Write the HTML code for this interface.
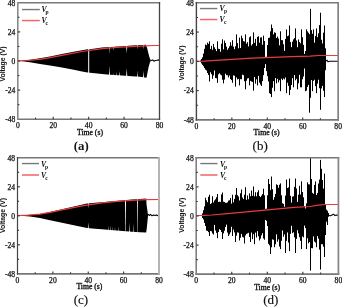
<!DOCTYPE html>
<html><head><meta charset="utf-8"><style>
html,body{margin:0;padding:0;background:#fff;overflow:hidden;}
svg{display:block;}
text{font-family:'Liberation Serif', 'Times New Roman', serif;fill:#111;}
.tk{font-size:7.6px;stroke:#111;stroke-width:0.25px;}
.xl{font-size:7.7px;stroke:#111;stroke-width:0.35px;}
.yl{font-size:6.8px;font-weight:bold;font-family:'Liberation Sans',Arial,sans-serif;}
.pl{font-size:12.8px;font-weight:bold;}
.pr{font-size:13px;stroke:#111;stroke-width:0.15px;}
.lg{font-size:7.6px;font-style:italic;font-weight:bold;}
.sub{font-size:5.5px;font-weight:bold;}
</style></head><body>
<svg width="342" height="307" viewBox="0 0 342 307">
<rect width="342" height="307" fill="#fff"/>
<polygon points="21.00,60.50 30.00,59.80 40.00,58.30 50.00,56.40 62.00,54.00 75.00,51.60 82.00,50.20 87.60,49.20 88.20,49.20 88.20,60.70 89.20,60.70 89.20,49.40 90.00,49.20 102.00,47.40 110.00,46.90 122.00,46.20 132.00,45.40 145.80,44.80 147.20,48.20 148.50,53.70 149.60,57.80 150.60,60.30 150.60,61.20 149.90,62.60 148.50,67.40 147.20,74.20 146.50,77.70 145.00,77.50 140.00,76.80 132.00,76.30 122.00,75.40 110.00,74.70 102.00,74.10 90.00,72.80 89.20,72.80 89.20,60.70 88.20,60.70 88.20,72.60 87.60,72.60 82.00,71.60 75.00,70.00 62.00,67.50 50.00,65.60 40.00,64.10 30.00,62.20 21.00,61.00" fill="#000"/>
<polygon points="109.10,45.90 109.90,45.90 109.50,53.90" fill="#fff"/>
<polygon points="109.00,75.70 110.00,75.70 109.50,65.70" fill="#fff"/>
<polygon points="112.75,45.10 113.65,45.10 113.20,51.00" fill="#fff"/>
<polygon points="112.80,76.50 113.60,76.50 113.20,73.00" fill="#fff"/>
<polygon points="116.00,76.20 116.80,76.20 116.40,71.80" fill="#fff"/>
<polygon points="119.05,76.50 119.95,76.50 119.50,71.00" fill="#fff"/>
<polygon points="126.00,44.50 127.40,44.50 126.70,53.20" fill="#fff"/>
<polygon points="126.05,77.50 127.35,77.50 126.70,68.10" fill="#fff"/>
<polygon points="136.95,44.30 137.85,44.30 137.40,49.60" fill="#fff"/>
<polygon points="136.90,78.00 137.90,78.00 137.40,70.80" fill="#fff"/>
<polygon points="142.90,43.80 143.90,43.80 143.40,49.60" fill="#fff"/>
<polygon points="142.80,78.80 144.00,78.80 143.40,70.80" fill="#fff"/>
<polyline points="150.30,60.80 151.30,60.50 152.70,59.90 154.00,61.20 155.40,60.50 156.80,60.30 158.00,59.90 159.50,60.20" fill="none" stroke="#000" stroke-width="1.1" stroke-linejoin="round"/>
<polyline points="17.70,60.80 28.00,60.50 40.00,59.40 50.00,57.60 62.00,55.40 82.00,51.50 102.00,48.60 117.00,47.40 132.00,46.60 145.00,45.80 154.00,45.50 159.50,45.50" fill="none" stroke="#e83c3c" stroke-width="1.2"/>
<polygon points="21.00,215.30 30.00,215.00 40.00,213.90 50.00,212.00 62.00,209.20 75.00,206.20 87.00,203.50 95.00,202.80 102.00,202.20 110.00,201.50 132.00,199.60 140.00,199.00 146.20,198.60 146.60,205.00 147.60,212.00 148.00,215.00 148.00,216.00 147.60,220.00 146.80,228.00 146.20,232.60 140.00,232.30 132.00,231.80 110.00,230.00 102.00,229.30 95.00,228.70 87.00,228.00 75.00,225.50 62.00,222.80 50.00,220.20 40.00,218.00 30.00,216.40 21.00,215.80" fill="#000"/>
<polygon points="87.80,202.30 88.80,202.30 88.30,208.50" fill="#fff"/>
<polygon points="87.80,229.20 88.80,229.20 88.30,222.50" fill="#fff"/>
<polygon points="107.90,231.20 108.50,231.20 108.20,225.50" fill="#fff"/>
<polygon points="110.10,231.50 110.70,231.50 110.40,225.50" fill="#fff"/>
<polygon points="112.15,231.50 112.65,231.50 112.40,226.30" fill="#fff"/>
<polygon points="114.75,231.80 115.25,231.80 115.00,226.50" fill="#fff"/>
<polygon points="118.25,232.00 118.95,232.00 118.60,226.00" fill="#fff"/>
<polygon points="124.95,198.20 126.05,198.20 125.68,233.40 125.32,233.40" fill="#fff"/>
<polygon points="129.00,232.80 129.80,232.80 129.40,222.60" fill="#fff"/>
<polygon points="133.50,233.00 134.10,233.00 133.80,223.00" fill="#fff"/>
<polygon points="136.95,197.80 137.85,197.80 137.55,233.50 137.25,233.50" fill="#fff"/>
<polyline points="147.20,214.80 148.20,214.40 149.20,215.50 150.50,214.40 152.00,215.80 153.50,215.10 155.00,215.60 156.50,214.90 158.00,215.70 159.00,215.30" fill="none" stroke="#000" stroke-width="1.1" stroke-linejoin="round"/>
<polyline points="17.50,215.50 28.00,215.20 40.00,214.10 50.00,212.30 62.00,209.90 82.00,205.80 102.00,202.80 117.00,201.40 132.00,200.40 146.00,199.70 159.00,199.50" fill="none" stroke="#e83c3c" stroke-width="1.2"/>
<path d="M200.50 60.46V61.96M201.50 58.97V63.43M202.50 57.28V64.85M203.50 53.60V66.18M204.50 48.82V68.07M205.50 44.50V69.70M206.50 45.12V70.48M207.50 42.61V73.01M208.50 43.82V75.03M209.50 41.30V81.50M210.50 48.98V72.24M211.50 45.88V74.13M212.50 49.76V78.80M213.50 43.90V75.47M214.50 47.36V70.52M215.50 49.15V78.03M216.50 51.17V78.30M217.50 41.30V82.80M218.50 48.80V74.37M219.50 49.01V73.26M220.50 51.78V74.57M221.50 43.72V75.40M222.50 39.30V79.71M223.50 49.34V83.40M224.50 40.60V79.63M225.50 43.05V73.65M226.50 46.66V75.13M227.50 49.82V75.31M228.50 48.23V77.43M229.50 46.29V75.51M230.50 42.21V79.06M231.50 45.61V80.11M232.50 40.20V82.80M233.50 46.78V75.39M234.50 49.20V75.77M235.50 46.30V86.70M236.50 34.40V77.49M237.50 43.13V79.40M238.50 48.28V78.89M239.50 37.60V85.40M240.50 48.04V79.14M241.50 35.70V79.27M242.50 38.24V74.66M243.50 41.10V75.16M244.50 41.55V81.28M245.50 34.40V89.30M246.50 43.65V80.71M247.50 42.16V78.51M248.50 46.38V78.19M249.50 37.26V85.40M250.50 36.30V80.89M251.50 45.47V81.50M252.50 44.08V81.92M253.50 32.40V90.60M254.50 42.87V76.93M255.50 38.89V83.63M256.50 45.90V79.30M257.50 36.91V85.40M258.50 36.30V75.89M259.50 42.67V82.59M260.50 37.50V84.61M261.50 37.39V86.00M262.50 44.74V81.12M263.50 35.70V75.22M264.50 41.03V67.98M265.50 56.85V64.12M266.50 56.79V71.13M267.50 45.00V76.20M268.50 37.98V81.44M269.50 37.64V93.20M270.50 31.37V93.99M271.50 24.50V97.10M272.50 28.14V87.72M273.50 34.43V81.11M274.50 32.30V91.20M275.50 32.89V78.00M276.50 37.99V83.38M277.50 36.58V78.86M278.50 38.52V82.35M279.50 45.28V80.24M280.50 31.30V91.20M281.50 40.12V78.70M282.50 40.17V80.10M283.50 44.19V78.53M284.50 50.87V79.43M285.50 38.92V77.49M286.50 29.40V93.20M287.50 36.19V82.77M288.50 35.58V85.88M289.50 25.50V95.10M290.50 41.97V89.86M291.50 47.15V84.99M292.50 41.66V78.20M293.50 39.40V87.30M294.50 38.12V75.11M295.50 28.40V80.35M296.50 40.47V78.82M297.50 47.22V89.30M298.50 39.47V83.32M299.50 42.02V74.84M300.50 43.33V87.30M301.50 29.40V87.30M302.50 37.16V79.27M303.50 44.88V76.52M304.50 53.93V68.52M305.50 51.02V91.20M306.50 29.40V90.66M307.50 31.37V86.89M308.50 32.75V84.87M309.50 34.20V112.70M310.50 8.80V97.81M311.50 30.13V80.09M312.50 33.77V91.20M313.50 29.40V80.80M314.50 42.70V79.74M315.50 35.94V86.14M316.50 28.40V93.20M317.50 37.17V83.67M318.50 33.35V79.74M319.50 25.09V88.20M320.50 12.70V109.80M321.50 39.77V88.41M322.50 43.50V85.89M323.50 32.66V90.78M324.50 25.50V97.10M325.50 48.30V70.25" stroke="#000" stroke-width="1.0" fill="none"/>
<polyline points="326.00,61.00 327.00,60.20 328.00,61.80 329.50,61.20 332.00,61.30 335.00,61.20 338.20,61.30" fill="none" stroke="#000" stroke-width="1.1" stroke-linejoin="round"/>
<polyline points="196.40,61.40 204.00,61.20 212.00,60.60 252.00,58.20 292.00,56.60 310.00,56.10 319.00,55.50 338.20,55.50" fill="none" stroke="#e83c3c" stroke-width="1.2"/>
<path d="M202.50 213.37V218.00M203.50 210.26V219.49M204.50 206.41V222.90M205.50 197.70V225.99M206.50 200.31V230.62M207.50 202.09V230.90M208.50 196.77V232.18M209.50 194.70V236.00M210.50 203.97V230.97M211.50 203.21V231.36M212.50 196.20V233.38M213.50 202.45V234.50M214.50 200.46V224.90M215.50 199.26V230.52M216.50 197.26V232.91M217.50 194.00V238.20M218.50 201.98V231.94M219.50 201.67V229.29M220.50 201.97V230.03M221.50 194.44V232.01M222.50 192.50V239.00M223.50 201.71V233.37M224.50 202.03V230.71M225.50 202.83V227.01M226.50 202.85V224.64M227.50 202.34V232.57M228.50 200.61V236.00M229.50 200.27V234.40M230.50 198.04V232.36M231.50 203.63V226.81M232.50 194.70V236.00M233.50 202.37V229.60M234.50 198.87V232.44M235.50 194.81V242.00M236.50 188.00V235.68M237.50 195.14V232.44M238.50 196.52V232.68M239.50 200.47V240.50M240.50 193.26V237.76M241.50 189.50V233.96M242.50 197.51V236.87M243.50 199.08V237.56M244.50 194.75V243.50M245.50 187.20V235.44M246.50 199.80V233.83M247.50 195.43V233.44M248.50 199.27V232.83M249.50 193.40V236.97M250.50 196.28V242.00M251.50 190.53V232.56M252.50 195.79V239.18M253.50 186.50V234.22M254.50 196.30V244.20M255.50 192.21V232.60M256.50 196.28V237.53M257.50 192.27V231.16M258.50 190.20V236.27M259.50 196.08V240.50M260.50 197.05V238.64M261.50 195.66V235.44M262.50 194.13V233.17M263.50 188.70V238.46M264.50 195.30V239.70M265.50 208.87V219.92M266.50 208.67V220.82M267.50 195.24V226.03M268.50 179.00V243.86M269.50 184.03V245.35M270.50 190.10V254.00M271.50 176.50V247.27M272.50 189.23V239.39M273.50 199.77V239.81M274.50 197.15V247.20M275.50 193.90V244.26M276.50 184.30V234.40M277.50 185.02V241.66M278.50 187.80V239.36M279.50 184.69V246.55M280.50 183.40V249.10M281.50 195.24V240.77M282.50 203.26V230.51M283.50 203.93V236.76M284.50 206.69V234.42M285.50 195.60V253.00M286.50 179.50V240.85M287.50 188.06V232.47M288.50 187.40V242.56M289.50 178.50V251.10M290.50 195.82V233.88M291.50 202.62V225.80M292.50 196.63V233.14M293.50 196.32V232.32M294.50 186.86V237.37M295.50 178.50V253.00M296.50 188.47V238.92M297.50 201.92V230.23M298.50 194.66V233.39M299.50 185.83V237.21M300.50 194.47V240.82M301.50 181.40V249.10M302.50 192.03V236.49M303.50 197.28V237.40M304.50 206.06V225.58M305.50 208.41V228.12M306.50 203.30V249.10M307.50 182.40V238.26M308.50 184.28V243.32M309.50 184.43V241.97M310.50 158.00V270.60M311.50 178.97V248.05M312.50 192.83V248.27M313.50 193.82V236.42M314.50 184.93V241.52M315.50 181.40V242.61M316.50 194.93V247.20M317.50 192.99V236.10M318.50 183.53V238.73M319.50 179.59V249.64M320.50 159.90V269.60M321.50 168.79V244.18M322.50 180.06V244.31M323.50 188.60V246.76M324.50 173.60V257.00M325.50 204.07V235.03M326.50 209.61V221.68M327.50 210.83V225.00M328.50 213.00V216.81" stroke="#000" stroke-width="1.0" fill="none"/>
<polyline points="329.00,215.50 330.50,215.80 332.00,215.00 333.50,214.20 335.00,215.60 336.50,215.00 338.50,215.30" fill="none" stroke="#000" stroke-width="1.1" stroke-linejoin="round"/>
<polyline points="196.20,215.50 204.00,215.40 212.00,215.00 230.00,213.40 252.00,211.30 294.00,207.30 310.00,206.50 318.00,205.20 325.00,204.50 338.40,204.50" fill="none" stroke="#e83c3c" stroke-width="1.2"/>
<line x1="17.00" y1="2.80" x2="160.15" y2="2.80" stroke="#7a7a7a" stroke-width="1.6"/>
<line x1="17.00" y1="119.20" x2="160.15" y2="119.20" stroke="#777" stroke-width="1.6"/>
<line x1="17.80" y1="2.00" x2="17.80" y2="120.00" stroke="#8a8a8a" stroke-width="1.6"/>
<line x1="159.50" y1="2.00" x2="159.50" y2="120.00" stroke="#444" stroke-width="1.3"/>
<line x1="17.80" y1="104.65" x2="19.40" y2="104.65" stroke="#333" stroke-width="1.1"/>
<line x1="17.80" y1="90.10" x2="20.20" y2="90.10" stroke="#333" stroke-width="1.1"/>
<line x1="17.80" y1="75.55" x2="19.40" y2="75.55" stroke="#333" stroke-width="1.1"/>
<line x1="17.80" y1="61.00" x2="20.20" y2="61.00" stroke="#333" stroke-width="1.1"/>
<line x1="17.80" y1="46.45" x2="19.40" y2="46.45" stroke="#333" stroke-width="1.1"/>
<line x1="17.80" y1="31.90" x2="20.20" y2="31.90" stroke="#333" stroke-width="1.1"/>
<line x1="17.80" y1="17.35" x2="19.40" y2="17.35" stroke="#333" stroke-width="1.1"/>
<line x1="35.51" y1="119.20" x2="35.51" y2="117.60" stroke="#333" stroke-width="1.1"/>
<line x1="53.22" y1="119.20" x2="53.22" y2="116.80" stroke="#333" stroke-width="1.1"/>
<line x1="70.94" y1="119.20" x2="70.94" y2="117.60" stroke="#333" stroke-width="1.1"/>
<line x1="88.65" y1="119.20" x2="88.65" y2="116.80" stroke="#333" stroke-width="1.1"/>
<line x1="106.36" y1="119.20" x2="106.36" y2="117.60" stroke="#333" stroke-width="1.1"/>
<line x1="124.08" y1="119.20" x2="124.08" y2="116.80" stroke="#333" stroke-width="1.1"/>
<line x1="141.79" y1="119.20" x2="141.79" y2="117.60" stroke="#333" stroke-width="1.1"/>
<text x="15.30" y="5.70" text-anchor="end" class="tk">48</text>
<text x="15.30" y="34.80" text-anchor="end" class="tk">24</text>
<text x="15.30" y="63.90" text-anchor="end" class="tk">0</text>
<text x="15.30" y="93.00" text-anchor="end" class="tk">-24</text>
<text x="15.30" y="122.10" text-anchor="end" class="tk">-48</text>
<text x="17.80" y="128.20" text-anchor="middle" class="tk">0</text>
<text x="53.22" y="128.20" text-anchor="middle" class="tk">20</text>
<text x="88.65" y="128.20" text-anchor="middle" class="tk">40</text>
<text x="124.08" y="128.20" text-anchor="middle" class="tk">60</text>
<text x="159.50" y="128.20" text-anchor="middle" class="tk">80</text>
<text x="90.00" y="135.20" text-anchor="middle" class="xl">Time (s)</text>
<text x="81.30" y="149.60" text-anchor="middle" class="pl">(a)</text>
<text transform="translate(4.70,64.00) rotate(-90)" text-anchor="middle" class="yl">Voltage (V)</text>
<line x1="22.0" y1="9.55" x2="39.8" y2="9.55" stroke="#787878" stroke-width="1.4"/>
<line x1="22.0" y1="20.55" x2="39.8" y2="20.55" stroke="#f06868" stroke-width="1.5"/>
<text x="41.4" y="11.6" class="lg">V</text><text x="45.40" y="13.70" class="sub">p</text>
<text x="41.4" y="22.9" class="lg">V</text><text x="45.60" y="25.00" class="sub">c</text>
<line x1="195.70" y1="2.80" x2="339.01" y2="2.80" stroke="#7a7a7a" stroke-width="1.6"/>
<line x1="195.70" y1="119.85" x2="339.01" y2="119.85" stroke="#777" stroke-width="1.7"/>
<line x1="196.40" y1="2.00" x2="196.40" y2="120.70" stroke="#444" stroke-width="1.4"/>
<line x1="338.16" y1="2.00" x2="338.16" y2="120.70" stroke="#808080" stroke-width="1.7"/>
<line x1="196.40" y1="105.22" x2="198.00" y2="105.22" stroke="#333" stroke-width="1.1"/>
<line x1="196.40" y1="90.59" x2="198.80" y2="90.59" stroke="#333" stroke-width="1.1"/>
<line x1="196.40" y1="75.96" x2="198.00" y2="75.96" stroke="#333" stroke-width="1.1"/>
<line x1="196.40" y1="61.32" x2="198.80" y2="61.32" stroke="#333" stroke-width="1.1"/>
<line x1="196.40" y1="46.69" x2="198.00" y2="46.69" stroke="#333" stroke-width="1.1"/>
<line x1="196.40" y1="32.06" x2="198.80" y2="32.06" stroke="#333" stroke-width="1.1"/>
<line x1="196.40" y1="17.43" x2="198.00" y2="17.43" stroke="#333" stroke-width="1.1"/>
<line x1="214.12" y1="119.85" x2="214.12" y2="118.25" stroke="#333" stroke-width="1.1"/>
<line x1="231.84" y1="119.85" x2="231.84" y2="117.45" stroke="#333" stroke-width="1.1"/>
<line x1="249.56" y1="119.85" x2="249.56" y2="118.25" stroke="#333" stroke-width="1.1"/>
<line x1="267.28" y1="119.85" x2="267.28" y2="117.45" stroke="#333" stroke-width="1.1"/>
<line x1="285.00" y1="119.85" x2="285.00" y2="118.25" stroke="#333" stroke-width="1.1"/>
<line x1="302.72" y1="119.85" x2="302.72" y2="117.45" stroke="#333" stroke-width="1.1"/>
<line x1="320.44" y1="119.85" x2="320.44" y2="118.25" stroke="#333" stroke-width="1.1"/>
<text x="193.90" y="5.70" text-anchor="end" class="tk">48</text>
<text x="193.90" y="34.96" text-anchor="end" class="tk">24</text>
<text x="193.90" y="64.22" text-anchor="end" class="tk">0</text>
<text x="193.90" y="93.49" text-anchor="end" class="tk">-24</text>
<text x="193.90" y="122.75" text-anchor="end" class="tk">-48</text>
<text x="196.40" y="128.90" text-anchor="middle" class="tk">0</text>
<text x="231.84" y="128.90" text-anchor="middle" class="tk">20</text>
<text x="267.28" y="128.90" text-anchor="middle" class="tk">40</text>
<text x="302.72" y="128.90" text-anchor="middle" class="tk">60</text>
<text x="338.16" y="128.90" text-anchor="middle" class="tk">80</text>
<text x="266.60" y="135.20" text-anchor="middle" class="xl">Time (s)</text>
<text x="260.20" y="149.60" text-anchor="middle" class="pr">(b)</text>
<text transform="translate(183.60,63.10) rotate(-90)" text-anchor="middle" class="yl">Voltage (V)</text>
<line x1="199.9" y1="8.55" x2="217.3" y2="8.55" stroke="#787878" stroke-width="1.4"/>
<line x1="199.9" y1="19.55" x2="217.3" y2="19.55" stroke="#f06868" stroke-width="1.5"/>
<text x="219.4" y="11.0" class="lg">V</text><text x="223.90" y="13.10" class="sub">p</text>
<text x="219.4" y="21.9" class="lg">V</text><text x="224.10" y="24.00" class="sub">c</text>
<line x1="16.90" y1="157.80" x2="160.00" y2="157.80" stroke="#777" stroke-width="1.6"/>
<line x1="16.90" y1="273.80" x2="160.00" y2="273.80" stroke="#777" stroke-width="1.65"/>
<line x1="17.50" y1="157.00" x2="17.50" y2="274.62" stroke="#444" stroke-width="1.2"/>
<line x1="159.00" y1="157.00" x2="159.00" y2="274.62" stroke="#b4b4b4" stroke-width="2.0"/>
<line x1="17.50" y1="259.30" x2="19.10" y2="259.30" stroke="#333" stroke-width="1.1"/>
<line x1="17.50" y1="244.80" x2="19.90" y2="244.80" stroke="#333" stroke-width="1.1"/>
<line x1="17.50" y1="230.30" x2="19.10" y2="230.30" stroke="#333" stroke-width="1.1"/>
<line x1="17.50" y1="215.80" x2="19.90" y2="215.80" stroke="#333" stroke-width="1.1"/>
<line x1="17.50" y1="201.30" x2="19.10" y2="201.30" stroke="#333" stroke-width="1.1"/>
<line x1="17.50" y1="186.80" x2="19.90" y2="186.80" stroke="#333" stroke-width="1.1"/>
<line x1="17.50" y1="172.30" x2="19.10" y2="172.30" stroke="#333" stroke-width="1.1"/>
<line x1="35.19" y1="273.80" x2="35.19" y2="272.20" stroke="#333" stroke-width="1.1"/>
<line x1="52.88" y1="273.80" x2="52.88" y2="271.40" stroke="#333" stroke-width="1.1"/>
<line x1="70.56" y1="273.80" x2="70.56" y2="272.20" stroke="#333" stroke-width="1.1"/>
<line x1="88.25" y1="273.80" x2="88.25" y2="271.40" stroke="#333" stroke-width="1.1"/>
<line x1="105.94" y1="273.80" x2="105.94" y2="272.20" stroke="#333" stroke-width="1.1"/>
<line x1="123.62" y1="273.80" x2="123.62" y2="271.40" stroke="#333" stroke-width="1.1"/>
<line x1="141.31" y1="273.80" x2="141.31" y2="272.20" stroke="#333" stroke-width="1.1"/>
<text x="15.00" y="160.70" text-anchor="end" class="tk">48</text>
<text x="15.00" y="189.70" text-anchor="end" class="tk">24</text>
<text x="15.00" y="218.70" text-anchor="end" class="tk">0</text>
<text x="15.00" y="247.70" text-anchor="end" class="tk">-24</text>
<text x="15.00" y="276.70" text-anchor="end" class="tk">-48</text>
<text x="17.50" y="282.80" text-anchor="middle" class="tk">0</text>
<text x="52.88" y="282.80" text-anchor="middle" class="tk">20</text>
<text x="88.25" y="282.80" text-anchor="middle" class="tk">40</text>
<text x="123.62" y="282.80" text-anchor="middle" class="tk">60</text>
<text x="159.00" y="282.80" text-anchor="middle" class="tk">80</text>
<text x="89.40" y="289.40" text-anchor="middle" class="xl">Time (s)</text>
<text x="80.90" y="304.20" text-anchor="middle" class="pr">(c)</text>
<text transform="translate(4.70,215.50) rotate(-90)" text-anchor="middle" class="yl">Voltage (V)</text>
<line x1="22.0" y1="163.55" x2="39.0" y2="163.55" stroke="#787878" stroke-width="1.4"/>
<line x1="22.0" y1="175.0" x2="39.0" y2="175.0" stroke="#f58a8a" stroke-width="2.0"/>
<text x="41.0" y="166.9" class="lg">V</text><text x="45.00" y="169.00" class="sub">p</text>
<text x="41.0" y="177.8" class="lg">V</text><text x="45.20" y="179.90" class="sub">c</text>
<line x1="195.39" y1="157.80" x2="339.30" y2="157.80" stroke="#777" stroke-width="1.6"/>
<line x1="195.39" y1="274.20" x2="339.30" y2="274.20" stroke="#777" stroke-width="1.7"/>
<line x1="196.20" y1="157.00" x2="196.20" y2="275.05" stroke="#808080" stroke-width="1.62"/>
<line x1="338.40" y1="157.00" x2="338.40" y2="275.05" stroke="#888" stroke-width="1.8"/>
<line x1="196.20" y1="259.65" x2="197.80" y2="259.65" stroke="#333" stroke-width="1.1"/>
<line x1="196.20" y1="245.10" x2="198.60" y2="245.10" stroke="#333" stroke-width="1.1"/>
<line x1="196.20" y1="230.55" x2="197.80" y2="230.55" stroke="#333" stroke-width="1.1"/>
<line x1="196.20" y1="216.00" x2="198.60" y2="216.00" stroke="#333" stroke-width="1.1"/>
<line x1="196.20" y1="201.45" x2="197.80" y2="201.45" stroke="#333" stroke-width="1.1"/>
<line x1="196.20" y1="186.90" x2="198.60" y2="186.90" stroke="#333" stroke-width="1.1"/>
<line x1="196.20" y1="172.35" x2="197.80" y2="172.35" stroke="#333" stroke-width="1.1"/>
<line x1="213.97" y1="274.20" x2="213.97" y2="272.60" stroke="#333" stroke-width="1.1"/>
<line x1="231.75" y1="274.20" x2="231.75" y2="271.80" stroke="#333" stroke-width="1.1"/>
<line x1="249.52" y1="274.20" x2="249.52" y2="272.60" stroke="#333" stroke-width="1.1"/>
<line x1="267.30" y1="274.20" x2="267.30" y2="271.80" stroke="#333" stroke-width="1.1"/>
<line x1="285.07" y1="274.20" x2="285.07" y2="272.60" stroke="#333" stroke-width="1.1"/>
<line x1="302.85" y1="274.20" x2="302.85" y2="271.80" stroke="#333" stroke-width="1.1"/>
<line x1="320.62" y1="274.20" x2="320.62" y2="272.60" stroke="#333" stroke-width="1.1"/>
<text x="193.70" y="160.70" text-anchor="end" class="tk">48</text>
<text x="193.70" y="189.80" text-anchor="end" class="tk">24</text>
<text x="193.70" y="218.90" text-anchor="end" class="tk">0</text>
<text x="193.70" y="248.00" text-anchor="end" class="tk">-24</text>
<text x="193.70" y="277.10" text-anchor="end" class="tk">-48</text>
<text x="196.20" y="283.10" text-anchor="middle" class="tk">0</text>
<text x="231.75" y="283.10" text-anchor="middle" class="tk">20</text>
<text x="267.30" y="283.10" text-anchor="middle" class="tk">40</text>
<text x="302.85" y="283.10" text-anchor="middle" class="tk">60</text>
<text x="338.40" y="283.10" text-anchor="middle" class="tk">80</text>
<text x="267.20" y="289.50" text-anchor="middle" class="xl">Time (s)</text>
<text x="270.80" y="304.20" text-anchor="middle" class="pr">(d)</text>
<text transform="translate(183.60,215.30) rotate(-90)" text-anchor="middle" class="yl">Voltage (V)</text>
<line x1="200.3" y1="163.55" x2="217.5" y2="163.55" stroke="#787878" stroke-width="1.4"/>
<line x1="200.3" y1="175.0" x2="217.5" y2="175.0" stroke="#f58a8a" stroke-width="2.0"/>
<text x="219.9" y="166.9" class="lg">V</text><text x="223.90" y="169.00" class="sub">p</text>
<text x="219.9" y="177.8" class="lg">V</text><text x="224.10" y="179.90" class="sub">c</text>
</svg>
</body></html>
